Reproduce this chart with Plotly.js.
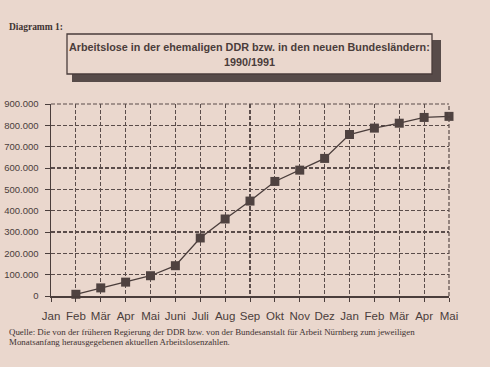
<!DOCTYPE html>
<html><head><meta charset="utf-8">
<script src="https://cdn.plot.ly/plotly-3.0.1.min.js"></script>
<style>html,body{margin:0;padding:0;background:#ead7cd;}#c{width:490px;height:367px;}</style>
</head><body><div id="c"></div>
<script>
var months = ["Jan","Feb","Mär","Apr","Mai","Juni","Juli","Aug","Sep","Okt","Nov","Dez","Jan","Feb","Mär","Apr","Mai"];
var pointMonthIdx = [1,2,3,4,5,6,7,8,9,10,11,12,13,14,15,16];
var arbeitslose = [8000,38000,65000,95000,142000,272000,361000,445000,537000,590000,645000,757000,787000,810000,837000,842000];
var yTickVals = [0,100000,200000,300000,400000,500000,600000,700000,800000,900000];
var yTickText = ["0","100.000","200.000","300.000","400.000","500.000","600.000","700.000","800.000","900.000"];
var titleLines = ["Arbeitslose in der ehemaligen DDR bzw. in den neuen Bundesländern:","1990/1991"];
var diagLabel = "Diagramm 1:";
var source1 = "Quelle: Die von der früheren Regierung der DDR bzw. von der Bundesanstalt für Arbeit Nürnberg zum jeweiligen";
var source2 = "Monatsanfang herausgegebenen aktuellen Arbeitslosenzahlen.";

var W=490,H=367, L=51, R=449, T=104, B=296;
var ink="#4a3d3b";
function px(x){return (x-L)/(R-L);}
function py(y){return (B-y)/(B-T);}

// fit a font size so the text reaches a target width in pixels
var cv = document.createElement("canvas").getContext("2d");
function fitSize(text, weight, family, target){
  cv.font = weight+" 20px "+family;
  var w = cv.measureText(text).width;
  return w ? 20*target/w : 10;
}
var sansFam = "'Liberation Sans'";
var serifFam = "'Liberation Serif'";
var titleSize = fitSize(titleLines[0], "bold", sansFam, 361);
var diagSize = fitSize(diagLabel, "bold", serifFam, 54);
var srcSize = fitSize(source1, "normal", serifFam, 407);

var trace = {x: pointMonthIdx, y: arbeitslose, mode:"lines+markers", type:"scatter",
  line:{color:ink,width:1.3}, marker:{symbol:"square",size:9,color:"#4f4240"}, cliponaxis:false, hoverinfo:"none"};

var gdash = "4px,2px";
var serif = "Liberation Serif, Times New Roman, serif";
var layout = {
  width:W,height:H, paper_bgcolor:"#ead7cd", plot_bgcolor:"rgba(0,0,0,0)",
  margin:{l:L,r:W-R,t:T,b:H-B}, showlegend:false,
  font:{family:"Liberation Sans, Arial, sans-serif", color:ink},
  xaxis:{range:[0,16], tickvals:months.map(function(_,i){return i;}), ticktext:months,
    showgrid:true, gridcolor:"#5a4c4a", gridwidth:1.2, griddash:gdash, zeroline:false,
    showline:true, linecolor:ink, linewidth:1.5, ticks:"outside", ticklen:4, tickcolor:ink, tickwidth:1,
    ticklabelstandoff:5, tickfont:{size:11.5,color:ink}, fixedrange:true},
  yaxis:{range:[0,900000], tickvals:yTickVals, ticktext:yTickText,
    showgrid:true, gridcolor:"#5a4c4a", gridwidth:1.2, griddash:gdash, zeroline:false,
    showline:true, linecolor:ink, linewidth:1.5, ticks:"outside", ticklen:5, tickcolor:ink, tickwidth:1,
    ticklabelstandoff:4, tickfont:{size:9.5,color:ink}, fixedrange:true},
  shapes:[
    {type:"rect",xref:"paper",yref:"paper",x0:px(72),x1:px(441),y0:py(82),y1:py(40),fillcolor:"#574b49",line:{width:0},layer:"above"},
    {type:"rect",xref:"paper",yref:"paper",x0:px(67),x1:px(432),y0:py(74),y1:py(34),fillcolor:"#ead7cd",line:{color:ink,width:1.3},layer:"above"},
    {type:"line",xref:"paper",yref:"paper",x0:0,x1:1,y0:1,y1:1,line:{color:"#5a4c4a",width:1.2,dash:gdash}},
    {type:"line",xref:"paper",yref:"paper",x0:1,x1:1,y0:0,y1:1,line:{color:"#5a4c4a",width:1.2,dash:gdash}}
  ],
  annotations:[
    {text:"<b>"+titleLines[0]+"</b>",xref:"paper",yref:"paper",x:px(249.5),y:py(47),xanchor:"center",yanchor:"middle",showarrow:false,font:{size:titleSize,color:ink}},
    {text:"<b>"+titleLines[1]+"</b>",xref:"paper",yref:"paper",x:px(249.5),y:py(62),xanchor:"center",yanchor:"middle",showarrow:false,font:{size:titleSize,color:ink}},
    {text:"<b>"+diagLabel+"</b>",xref:"paper",yref:"paper",x:px(7),y:py(27),xanchor:"left",yanchor:"middle",showarrow:false,font:{size:diagSize,color:"#3e3332",family:serif}},
    {text:source1,xref:"paper",yref:"paper",x:px(7),y:py(332),xanchor:"left",yanchor:"middle",showarrow:false,font:{size:srcSize,color:"#3e3332",family:serif}},
    {text:source2,xref:"paper",yref:"paper",x:px(7),y:py(342),xanchor:"left",yanchor:"middle",showarrow:false,font:{size:srcSize,color:"#3e3332",family:serif}}
  ]
};
Plotly.newPlot("c",[trace],layout,{staticPlot:true});
</script></body></html>
